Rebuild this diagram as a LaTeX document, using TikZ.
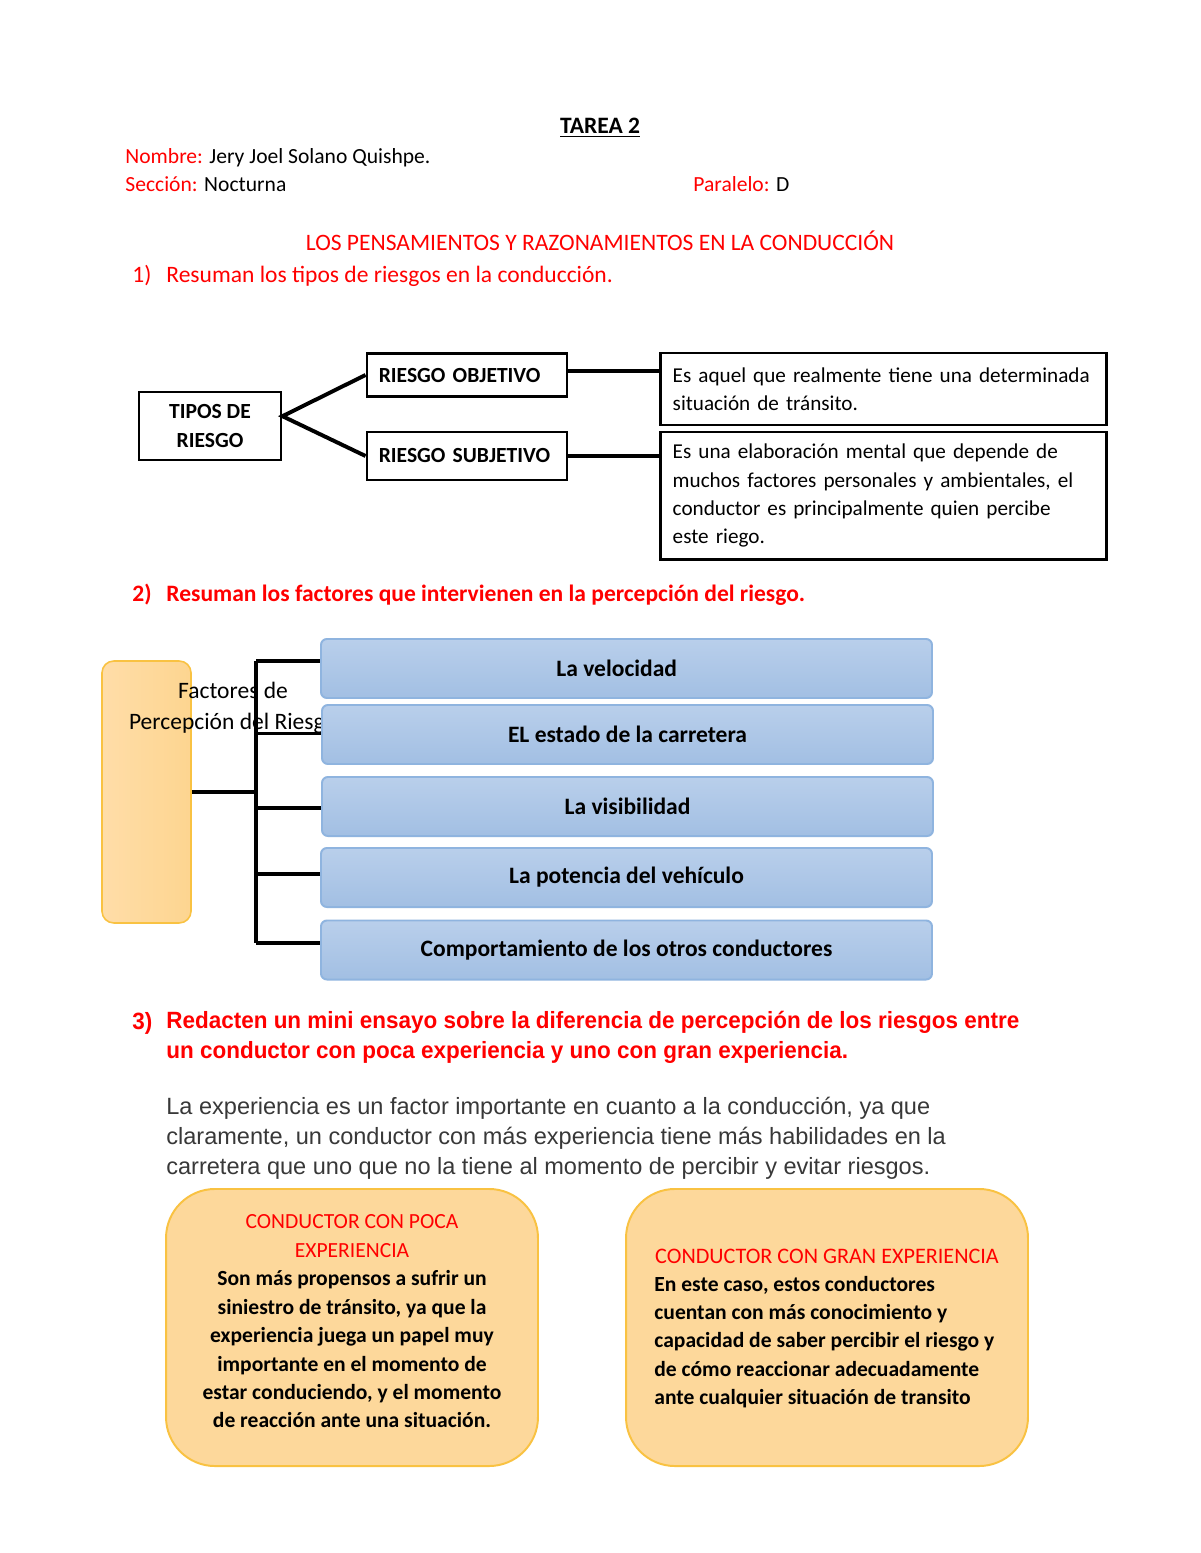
\documentclass[tikz,border=0pt]{standalone}
\usepackage{fontspec}
\setmainfont{Carlito}
\newfontfamily\arialfont{Liberation Sans}
\newfontfamily\arialnarrow[FakeStretch=0.955]{Liberation Sans}
\usepackage{xcolor}
\definecolor{redtxt}{HTML}{FF0000}
\definecolor{bluetop}{HTML}{B9CFEB}
\definecolor{bluebot}{HTML}{A2BFE3}
\definecolor{blueline}{HTML}{8FB4DF}
\definecolor{orangelight}{HTML}{FFDDA8}
\definecolor{orangefill}{HTML}{FDD590}
\definecolor{cardfill}{HTML}{FDD89B}
\definecolor{orangeline}{HTML}{F9C242}
\definecolor{essaygray}{HTML}{383838}
\usetikzlibrary{positioning}

\begin{document}
\begin{tikzpicture}[x=0.51pt,y=-0.51pt,
  every node/.style={inner sep=0pt},
  plain/.style={font=\fontsize{11}{14.3}\selectfont,anchor=base west},
  heading/.style={plain,font=\fontsize{12}{14.6}\selectfont,text=redtxt},
  riskbox/.style={draw=black,line width=1.5pt,font=\bfseries\fontsize{11}{14.3}\selectfont},
  defbox/.style={draw=black,line width=1.5pt,font=\fontsize{10.8}{14.3}\selectfont,
                 align=left,inner xsep=6.4pt,text width=215pt,minimum width=227.8pt},
  link/.style={line width=2pt},
  branch/.style={line width=1.8pt},
  factor/.style={draw=blueline,line width=1pt,rounded corners=3pt,
                 top color=bluetop,bottom color=bluebot,
                 minimum width=311.6pt,minimum height=30.1pt,
                 font=\bfseries\fontsize{12}{14.6}\selectfont},
  card/.style={draw=orangeline,line width=1pt,fill=cardfill,rounded corners=25pt,
               minimum height=141.3pt}
]
  \useasboundingbox[fill=white] (0,0) rectangle (1200,1553);

  % header
  \node[plain,font=\bfseries\fontsize{12}{14.6}\selectfont,anchor=base] (title) at (600,134) {\underline{TAREA 2}};
  \node[plain] (name) at (125,164) {\textcolor{redtxt}{Nombre:} Jery Joel Solano Quishpe.};
  \node[plain] (sect) at (125,192) {\textcolor{redtxt}{Sección:} Nocturna};
  \node[plain] (par) at (693,192) {\textcolor{redtxt}{Paralelo:} D};
  \node[heading,anchor=base] (topic) at (600,250) {LOS PENSAMIENTOS Y RAZONAMIENTOS EN LA CONDUCCIÓN};
  \node[heading] (q1n) at (132,282) {1)};
  \node[heading] (q1) at (166,282) {Resuman los tipos de riesgos en la conducción.};

  % tipos de riesgo
  \node[riskbox,minimum width=72.4pt,minimum height=34.7pt,align=center] (tipos) at (210,426) {TIPOS DE\\RIESGO};
  \node[riskbox,minimum height=22.4pt,text width=90pt,inner xsep=6pt,align=left] (obj) at (467,375) {RIESGO OBJETIVO};
  \node[riskbox,minimum height=24.5pt,text width=90pt,inner xsep=6pt,align=left] (subj) at (467,456) {RIESGO SUBJETIVO};
  \node[defbox,minimum height=36.7pt] (def1) at (883.5,389) {Es aquel que realmente tiene una determinada\\situación de tránsito.};
  \node[defbox,minimum height=64.8pt] (def2) at (883.5,495.5) {Es una elaboración mental que depende de\\muchos factores personales y ambientales, el\\conductor es principalmente quien percibe\\este riego.};
  \draw[link] (obj.west) -- ([yshift=5pt]tipos.east) -- (subj.west);
  \draw[link] ([yshift=2pt]obj.east) -- ([yshift=2pt]obj.east -| def1.west);
  \draw[link] (subj.east) -- (subj.east -| def2.west);

  % factores
  \node[heading,font=\bfseries\fontsize{12}{14.6}\selectfont] (q2n) at (132,601) {2)};
  \node[heading,font=\bfseries\fontsize{12}{14.6}\selectfont] (q2) at (166,601) {Resuman los factores que intervienen en la percepción del riesgo.};
  \node[draw=orangeline,line width=0.8pt,rounded corners=6pt,left color=orangelight,right color=orangefill,
        minimum width=45.4pt,minimum height=133.6pt] (fact) at (146.5,792) {};
  \node[font=\fontsize{12}{15.8}\selectfont,align=center] (factlbl) at (233,707.5) {Factores de\\Percepción del Riesgo};
  \coordinate (top) at (256,661);
  \coordinate (bot) at (256,943);
  \draw[branch] (top) -- (bot);
  \draw[branch] (fact.east) -- (fact.east -| top);
  \node[factor] (f1) at (626.5,668.5) {\hspace*{-10pt}La velocidad};
  \node[factor] (f2) at (627.5,734.5) {EL estado de la carretera};
  \node[factor] (f3) at (627.5,806.5) {La visibilidad};
  \node[factor] (f4) at (626.5,877.5) {La potencia del vehículo};
  \node[factor] (f5) at (626.5,950) {Comportamiento de los otros conductores};
  \draw[branch] (top) -- (top -| f1.west);
  \draw[branch] ([yshift=0.5pt]f2.west) -- ([yshift=0.5pt]f2.west -| top);
  \draw[branch] ([yshift=-0.7pt]f3.west) -- ([yshift=-0.7pt]f3.west -| top);
  \draw[branch] ([yshift=1.8pt]f4.west) -- ([yshift=1.8pt]f4.west -| top);
  \draw[branch] (bot) -- (bot -| f5.west);

  % ensayo
  \node[heading,font=\arialnarrow\bfseries\fontsize{12}{14.6}\selectfont] (q3n) at (132,1029) {3)};
  \node[heading,font=\arialnarrow\bfseries\fontsize{12}{14.8}\selectfont,align=left,anchor=base west] (q3) at (166,1058)
    {Redacten un mini ensayo sobre la diferencia de percepción de los riesgos entre\\un conductor con poca experiencia y uno con gran experiencia.};
  \node[plain,font=\arialfont\fontsize{12}{15.3}\selectfont,text=essaygray,align=left] (essay) at (166,1174)
    {La experiencia es un factor importante en cuanto a la conducción, ya que\\claramente, un conductor con más experiencia tiene más habilidades en la\\carretera que uno que no la tiene al momento de percibir y evitar riesgos.};

  % tarjetas
  \node[card,minimum width=189.7pt] (poca) at (352,1327.5) {};
  \node[card,minimum width=205pt] (gran) at (827,1327.5) {};
  \node[font=\bfseries\fontsize{11}{14.5}\selectfont,align=center] (pocatxt) at (352,1321.5)
    {\textcolor{redtxt}{\mdseries CONDUCTOR CON POCA}\\\textcolor{redtxt}{\mdseries EXPERIENCIA}\\
     Son más propensos a sufrir un\\siniestro de tránsito, ya que la\\experiencia juega un papel muy\\importante en el momento de\\estar conduciendo, y el momento\\de reacción ante una situación.};
  \node[font=\fontsize{11.3}{14.5}\selectfont,text=redtxt] (grantit) at (827,1256) {CONDUCTOR CON GRAN EXPERIENCIA};
  \node[font=\bfseries\fontsize{11}{14.5}\selectfont,align=left,anchor=west] (grantxt) at (654,1342)
    {En este caso, estos conductores\\cuentan con más conocimiento y\\capacidad de saber percibir el riesgo y\\de cómo reaccionar adecuadamente\\ante cualquier situación de transito};
\end{tikzpicture}
\end{document}
